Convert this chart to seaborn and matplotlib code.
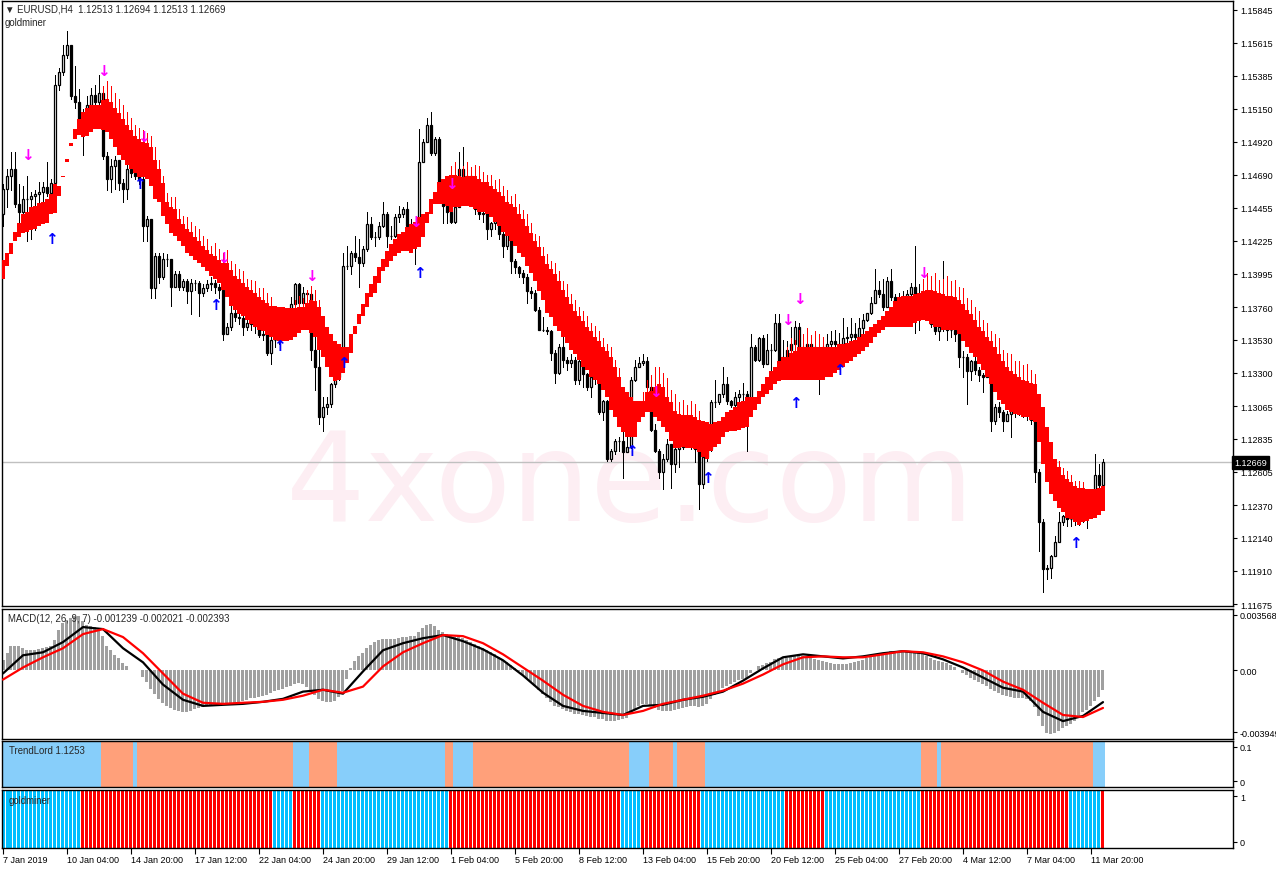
import numpy as np
import matplotlib
matplotlib.use("Agg")
import matplotlib.pyplot as plt
import seaborn as sns

# EURUSD H4, one entry per bar starting 7 Jan 2019; prices in pips (price * 10000)
first_open = 11441
close = [
    11459, 11468, 11473, 11448, 11443, 11452, 11452, 11454, 11455, 11457,
    11460, 11456, 11463, 11532, 11541, 11553, 11560, 11524, 11520, 11508,
    11501, 11518, 11525, 11520, 11526, 11482, 11466, 11475, 11479, 11463,
    11459, 11473, 11470, 11468, 11466, 11433, 11438, 11389, 11412, 11397,
    11410, 11410, 11390, 11399, 11390, 11394, 11387, 11393, 11393, 11386,
    11389, 11392, 11393, 11390, 11388, 11357, 11362, 11372, 11369, 11368,
    11362, 11365, 11364, 11363, 11356, 11357, 11344, 11353, 11353, 11355,
    11360, 11371, 11378, 11392, 11379, 11386, 11385, 11346, 11334, 11299,
    11306, 11308, 11322, 11327, 11336, 11405, 11405, 11414, 11411, 11407,
    11417, 11434, 11425, 11425, 11433, 11441, 11426, 11426, 11439, 11441,
    11445, 11433, 11434, 11431, 11478, 11492, 11504, 11484, 11494, 11464,
    11447, 11443, 11436, 11446, 11473, 11468, 11468, 11459, 11445, 11441,
    11442, 11431, 11435, 11438, 11427, 11419, 11428, 11408, 11404, 11400,
    11397, 11387, 11386, 11374, 11360, 11360, 11359, 11344, 11330, 11348,
    11339, 11337, 11339, 11325, 11338, 11329, 11320, 11327, 11327, 11302,
    11310, 11269, 11275, 11282, 11282, 11274, 11278, 11325, 11334, 11337,
    11338, 11320, 11290, 11275, 11260, 11269, 11280, 11266, 11276, 11278,
    11283, 11283, 11280, 11276, 11252, 11271, 11276, 11309, 11309, 11315,
    11322, 11310, 11307, 11313, 11315, 11315, 11311, 11348, 11339, 11354,
    11336, 11346, 11346, 11365, 11337, 11341, 11346, 11350, 11362, 11348,
    11346, 11350, 11348, 11346, 11345, 11348, 11350, 11352, 11350, 11350,
    11354, 11355, 11357, 11355, 11361, 11367, 11372, 11379, 11388, 11385,
    11376, 11394, 11383, 11380, 11381, 11381, 11385, 11390, 11385, 11385,
    11381, 11374, 11364, 11359, 11362, 11364, 11360, 11360, 11357, 11341,
    11341, 11331, 11338, 11332, 11328, 11327, 11330, 11296, 11306, 11302,
    11296, 11301, 11303, 11303, 11304, 11303, 11303, 11297, 11260, 11225,
    11192, 11193, 11201, 11211, 11225, 11229, 11227, 11227, 11227, 11227,
    11228, 11230, 11234, 11258, 11251, 11267,
]
high = [
    11462, 11473, 11485, 11485, 11462, 11461, 11468, 11457, 11458, 11464,
    11464, 11478, 11466, 11539, 11544, 11560, 11570, 11560, 11545, 11529,
    11515, 11524, 11530, 11532, 11539, 11530, 11485, 11480, 11482, 11479,
    11466, 11476, 11474, 11473, 11471, 11469, 11440, 11438, 11414, 11414,
    11414, 11413, 11410, 11401, 11401, 11396, 11396, 11396, 11395, 11394,
    11392, 11395, 11397, 11395, 11392, 11383, 11365, 11380, 11374, 11373,
    11371, 11369, 11368, 11367, 11365, 11362, 11357, 11357, 11358, 11360,
    11366, 11374, 11383, 11393, 11393, 11390, 11388, 11387, 11358, 11348,
    11313, 11313, 11323, 11329, 11339, 11414, 11419, 11415, 11426, 11424,
    11419, 11443, 11439, 11429, 11436, 11450, 11443, 11433, 11441, 11447,
    11446, 11450, 11438, 11436, 11501, 11494, 11509, 11513, 11495, 11495,
    11466, 11448, 11445, 11448, 11485, 11488, 11473, 11467, 11460, 11448,
    11446, 11444, 11436, 11441, 11439, 11431, 11431, 11429, 11410, 11405,
    11402, 11399, 11390, 11388, 11376, 11369, 11362, 11360, 11346, 11350,
    11355, 11341, 11343, 11341, 11339, 11339, 11330, 11329, 11330, 11329,
    11311, 11311, 11276, 11283, 11285, 11288, 11285, 11327, 11339, 11341,
    11343, 11341, 11322, 11294, 11276, 11273, 11283, 11280, 11280, 11283,
    11290, 11289, 11286, 11282, 11276, 11275, 11278, 11311, 11325, 11315,
    11334, 11327, 11311, 11316, 11318, 11323, 11317, 11357, 11349, 11355,
    11356, 11357, 11350, 11371, 11371, 11353, 11352, 11362, 11366, 11365,
    11353, 11355, 11353, 11351, 11350, 11353, 11357, 11359, 11360, 11358,
    11368, 11362, 11368, 11365, 11368, 11371, 11372, 11383, 11403, 11394,
    11396, 11397, 11403, 11385, 11386, 11387, 11388, 11393, 11419, 11392,
    11388, 11385, 11378, 11366, 11366, 11408, 11368, 11368, 11364, 11360,
    11345, 11343, 11339, 11341, 11334, 11330, 11334, 11330, 11308, 11309,
    11304, 11303, 11304, 11308, 11311, 11310, 11308, 11304, 11301, 11262,
    11227, 11195, 11202, 11215, 11232, 11230, 11233, 11232, 11231, 11233,
    11234, 11235, 11239, 11273, 11266, 11269,
]
low = [
    11433, 11446, 11458, 11446, 11435, 11434, 11422, 11424, 11430, 11435,
    11438, 11454, 11456, 11461, 11528, 11539, 11551, 11522, 11516, 11506,
    11483, 11501, 11515, 11516, 11518, 11480, 11458, 11457, 11459, 11458,
    11450, 11452, 11467, 11466, 11462, 11422, 11422, 11382, 11382, 11393,
    11396, 11405, 11377, 11390, 11388, 11388, 11379, 11371, 11388, 11370,
    11384, 11387, 11388, 11386, 11382, 11353, 11357, 11360, 11366, 11364,
    11356, 11360, 11360, 11358, 11355, 11353, 11342, 11336, 11348, 11350,
    11353, 11359, 11369, 11377, 11377, 11379, 11382, 11339, 11318, 11294,
    11289, 11301, 11306, 11320, 11325, 11355, 11403, 11399, 11408, 11390,
    11405, 11415, 11424, 11419, 11424, 11432, 11418, 11424, 11425, 11436,
    11439, 11431, 11424, 11406, 11424, 11478, 11492, 11483, 11483, 11452,
    11435, 11435, 11435, 11435, 11446, 11466, 11462, 11455, 11441, 11438,
    11436, 11424, 11426, 11431, 11424, 11411, 11417, 11400, 11400, 11397,
    11393, 11379, 11382, 11373, 11360, 11359, 11357, 11339, 11323, 11329,
    11334, 11332, 11334, 11322, 11322, 11320, 11318, 11313, 11322, 11301,
    11297, 11268, 11268, 11273, 11275, 11256, 11274, 11277, 11324, 11334,
    11335, 11318, 11289, 11274, 11256, 11248, 11268, 11249, 11260, 11264,
    11276, 11279, 11276, 11267, 11234, 11249, 11268, 11275, 11306, 11308,
    11313, 11308, 11306, 11306, 11310, 11311, 11275, 11311, 11338, 11338,
    11334, 11336, 11331, 11345, 11335, 11338, 11339, 11342, 11348, 11346,
    11341, 11339, 11338, 11336, 11315, 11342, 11345, 11346, 11346, 11348,
    11350, 11351, 11353, 11353, 11357, 11358, 11366, 11371, 11379, 11383,
    11374, 11376, 11381, 11378, 11378, 11377, 11378, 11383, 11358, 11360,
    11371, 11367, 11362, 11357, 11353, 11359, 11353, 11355, 11352, 11334,
    11327, 11308, 11325, 11329, 11324, 11316, 11327, 11289, 11294, 11299,
    11289, 11296, 11285, 11299, 11300, 11299, 11297, 11294, 11253, 11205,
    11176, 11185, 11186, 11201, 11211, 11223, 11222, 11222, 11223, 11223,
    11225, 11221, 11228, 11233, 11248, 11251,
]

# goldminer channel, upper and lower edge per bar (pips)
band_top = [
    11409, 11414, 11421, 11429, 11435, 11441, 11443, 11446, 11447, 11449,
    11450, 11452, 11455, 11462, 11461, 11468, 11480, 11491, 11501, 11508,
    11513, 11516, 11518, 11518, 11518, 11521, 11522, 11520, 11516, 11512,
    11508, 11504, 11500, 11496, 11494, 11492, 11491, 11488, 11479, 11473,
    11463, 11450, 11446, 11445, 11438, 11434, 11431, 11429, 11425, 11422,
    11419, 11416, 11413, 11412, 11409, 11407, 11407, 11402, 11398, 11396,
    11393, 11390, 11388, 11386, 11383, 11381, 11379, 11377, 11377, 11376,
    11376, 11375, 11375, 11375, 11376, 11376, 11379, 11381, 11380, 11376,
    11370, 11362, 11357, 11352, 11350, 11348, 11348, 11357, 11363, 11371,
    11378, 11386, 11392, 11398, 11404, 11410, 11415, 11420, 11424, 11427,
    11429, 11432, 11434, 11436, 11439, 11441, 11443, 11452, 11457, 11464,
    11466, 11468, 11469, 11469, 11468, 11467, 11468, 11468, 11468, 11466,
    11464, 11464, 11461, 11459, 11457, 11454, 11450, 11448, 11446, 11441,
    11438, 11433, 11428, 11422, 11418, 11412, 11406, 11403, 11399, 11394,
    11388, 11383, 11378, 11373, 11370, 11366, 11362, 11359, 11355, 11352,
    11348, 11345, 11341, 11334, 11327, 11320, 11316, 11313, 11310, 11310,
    11310, 11316, 11317, 11320, 11322, 11320, 11313, 11309, 11303, 11301,
    11300, 11300, 11300, 11299, 11297, 11296, 11295, 11294, 11295, 11296,
    11299, 11302, 11304, 11306, 11309, 11310, 11313, 11313, 11313, 11317,
    11322, 11327, 11331, 11334, 11338, 11341, 11341, 11344, 11345, 11348,
    11348, 11348, 11348, 11348, 11348, 11348, 11348, 11348, 11348, 11350,
    11350, 11351, 11352, 11353, 11355, 11357, 11359, 11362, 11364, 11367,
    11370, 11373, 11376, 11380, 11383, 11384, 11384, 11384, 11385, 11386,
    11387, 11388, 11388, 11387, 11386, 11385, 11384, 11384, 11383, 11381,
    11378, 11374, 11371, 11367, 11362, 11359, 11355, 11352, 11348, 11343,
    11338, 11334, 11331, 11329, 11327, 11325, 11324, 11323, 11322, 11315,
    11306, 11292, 11281, 11269, 11264, 11258, 11255, 11253, 11250, 11249,
    11249, 11248, 11248, 11248, 11249, 11250,
]
band_bot = [
    11396, 11405, 11413, 11422, 11425, 11428, 11429, 11430, 11431, 11433,
    11434, 11435, 11441, 11442, 11454, 11467, 11478, 11489, 11494, 11497,
    11495, 11496, 11499, 11501, 11501, 11500, 11499, 11494, 11488, 11483,
    11479, 11476, 11473, 11470, 11467, 11467, 11466, 11461, 11452, 11450,
    11440, 11434, 11428, 11426, 11422, 11419, 11414, 11412, 11409, 11407,
    11404, 11401, 11398, 11396, 11393, 11388, 11383, 11377, 11374, 11371,
    11370, 11367, 11364, 11362, 11360, 11359, 11356, 11355, 11353, 11352,
    11352, 11352, 11353, 11355, 11358, 11360, 11360, 11358, 11355, 11346,
    11341, 11334, 11327, 11324, 11325, 11330, 11337, 11344, 11357, 11364,
    11370, 11376, 11383, 11386, 11393, 11401, 11404, 11408, 11412, 11414,
    11415, 11415, 11414, 11417, 11418, 11425, 11435, 11441, 11448, 11448,
    11448, 11447, 11443, 11446, 11446, 11447, 11447, 11446, 11445, 11443,
    11443, 11441, 11439, 11436, 11433, 11429, 11426, 11422, 11419, 11414,
    11411, 11405, 11400, 11394, 11387, 11381, 11372, 11369, 11363, 11359,
    11355, 11351, 11346, 11343, 11339, 11334, 11332, 11327, 11325, 11322,
    11318, 11313, 11304, 11299, 11292, 11288, 11285, 11285, 11285, 11295,
    11299, 11302, 11302, 11299, 11296, 11292, 11288, 11282, 11277, 11277,
    11278, 11277, 11277, 11276, 11274, 11271, 11269, 11275, 11278, 11280,
    11285, 11288, 11289, 11289, 11290, 11291, 11292, 11299, 11304, 11308,
    11313, 11315, 11318, 11322, 11324, 11325, 11325, 11325, 11325, 11325,
    11325, 11325, 11325, 11325, 11325, 11325, 11327, 11327, 11330, 11332,
    11334, 11337, 11338, 11341, 11343, 11345, 11348, 11351, 11355, 11358,
    11360, 11362, 11362, 11362, 11362, 11362, 11362, 11362, 11365, 11366,
    11367, 11366, 11364, 11362, 11362, 11360, 11360, 11360, 11360, 11357,
    11352, 11348, 11344, 11341, 11336, 11332, 11327, 11322, 11316, 11311,
    11308, 11304, 11302, 11301, 11300, 11299, 11299, 11297, 11295, 11281,
    11266, 11253, 11245, 11240, 11235, 11232, 11228, 11227, 11225, 11223,
    11225, 11226, 11227, 11228, 11230, 11233,
]
# thin red ticks above the channel (pips above band_top, 0 = none)
spike = [
    0, 0, 0, 0, 0, 0, 0, 0, 0, 0,
    0, 0, 0, 0, 0, 0, 0, 0, 0, 0,
    0, 0, 0, 0, 0, 10, 13, 11, 10, 10,
    10, 9, 9, 8, 8, 8, 7, 8, 9, 6,
    5, 6, 7, 8, 7, 6, 8, 7, 8, 9,
    7, 8, 6, 9, 8, 7, 9, 6, 8, 7,
    8, 6, 7, 8, 6, 8, 7, 6, 0, 0,
    0, 0, 0, 6, 8, 6, 9, 10, 8, 5,
    0, 0, 0, 0, 0, 0, 0, 0, 0, 0,
    0, 0, 0, 0, 0, 0, 0, 0, 0, 0,
    0, 0, 0, 0, 0, 0, 0, 0, 0, 0,
    0, 0, 6, 9, 5, 8, 10, 6, 8, 9,
    7, 5, 8, 6, 9, 7, 8, 6, 9, 7,
    6, 8, 7, 5, 8, 6, 7, 5, 8, 7,
    6, 9, 7, 8, 6, 7, 8, 6, 8, 7,
    6, 5, 7, 5, 6, 0, 0, 0, 0, 0,
    6, 9, 11, 14, 12, 10, 13, 9, 12, 8,
    11, 7, 10, 9, 6, 0, 0, 0, 0, 0,
    0, 0, 0, 0, 0, 0, 0, 0, 0, 0,
    0, 0, 0, 0, 0, 0, 7, 10, 8, 12,
    9, 13, 8, 11, 9, 7, 0, 0, 0, 0,
    0, 0, 0, 0, 0, 0, 0, 0, 0, 0,
    0, 0, 0, 0, 0, 0, 0, 0, 0, 0,
    9, 12, 10, 13, 9, 11, 14, 10, 12, 9,
    11, 8, 10, 9, 11, 8, 10, 7, 9, 11,
    8, 10, 12, 9, 11, 10, 12, 9, 7, 0,
    0, 0, 0, 0, 4, 5, 6, 5, 4, 5,
    4, 0, 0, 0, 0, 0,
]

# MACD histogram per bar, in units of 1e-4
macd_hist = [
    6.5, 11.0, 15.5, 15.5, 15.5, 14.2, 12.9, 12.9, 12.9, 13.5,
    14.2, 14.8, 15.5, 19.4, 25.8, 30.3, 32.3, 33.5, 34.8, 34.8,
    31.6, 29.0, 28.4, 27.7, 25.8, 21.9, 15.5, 12.9, 9.7, 7.7,
    4.5, 2.6, 0.6, 0.0, 0.0, -3.9, -7.1, -11.6, -14.8, -18.1,
    -20.6, -22.6, -23.9, -25.2, -25.8, -26.4, -26.4, -25.8, -24.5, -23.9,
    -23.2, -22.6, -22.6, -21.3, -21.3, -21.9, -21.9, -21.3, -20.6, -20.0,
    -19.4, -18.7, -17.4, -17.4, -16.8, -16.1, -15.5, -14.2, -12.9, -12.3,
    -11.6, -10.3, -9.7, -8.4, -7.7, -8.4, -10.3, -12.9, -15.5, -18.1,
    -19.4, -20.0, -20.0, -19.4, -16.8, -12.9, -5.2, 1.3, 5.8, 9.0,
    11.0, 14.2, 16.1, 18.1, 19.4, 20.0, 20.0, 20.0, 20.0, 20.6,
    21.3, 21.3, 21.9, 21.9, 24.5, 27.1, 29.0, 29.7, 28.4, 25.8,
    24.5, 23.2, 22.6, 21.3, 21.3, 20.6, 19.4, 18.1, 16.8, 15.5,
    14.2, 12.9, 11.6, 10.3, 8.4, 6.5, 5.2, 3.2, 1.3, -0.6,
    -2.6, -5.2, -7.1, -9.7, -12.3, -14.8, -17.4, -20.0, -22.6, -23.2,
    -24.5, -25.8, -26.4, -27.7, -27.7, -28.4, -29.0, -29.7, -29.7, -31.0,
    -31.0, -32.3, -32.3, -32.3, -31.6, -31.0, -30.3, -27.1, -24.5, -22.6,
    -21.3, -21.3, -22.6, -23.9, -25.2, -25.8, -25.8, -25.8, -25.2, -24.5,
    -23.9, -23.2, -22.6, -22.6, -23.2, -22.6, -21.3, -18.1, -15.5, -13.5,
    -11.0, -9.7, -8.4, -7.1, -5.8, -5.2, -4.5, -1.3, 0.6, 2.6,
    3.2, 4.5, 5.2, 7.1, 7.7, 7.7, 7.7, 8.4, 9.0, 9.0,
    9.0, 8.4, 7.7, 7.1, 6.5, 5.8, 5.2, 4.5, 3.9, 3.9,
    3.9, 3.9, 4.5, 5.2, 5.8, 6.5, 7.7, 9.0, 10.3, 11.0,
    11.0, 11.6, 12.3, 11.6, 11.6, 11.6, 11.6, 11.6, 11.6, 11.0,
    10.3, 9.0, 7.7, 6.5, 5.8, 5.2, 4.5, 3.2, 1.9, 0.0,
    -1.3, -3.2, -4.5, -5.8, -7.1, -8.4, -9.7, -11.6, -12.9, -14.2,
    -15.5, -16.1, -16.8, -17.4, -17.4, -17.4, -18.1, -19.4, -23.2, -29.0,
    -35.5, -40.0, -40.6, -40.0, -38.7, -36.8, -35.5, -34.2, -32.3, -29.0,
    -26.4, -25.2, -22.6, -19.4, -16.8, -12.4,
]
# MACD lines, read every 5th bar, units of 1e-4
line_step = 5
macd_main = [
    -1.9, 9.7, 11.6, 18.1, 27.7, 26.4, 14.2, 5.2, -9.0, -18.7,
    -22.6, -21.9, -21.3, -20.0, -18.1, -13.5, -12.3, -14.8, -0.6, 12.9,
    17.4, 20.6, 22.6, 18.7, 13.5, 6.5, -3.2, -14.2, -22.6, -25.8,
    -27.1, -28.4, -22.6, -21.9, -18.7, -16.8, -13.5, -6.5, 1.3, 8.4,
    10.3, 9.0, 7.7, 9.0, 11.0, 12.3, 11.0, 7.1, 1.9, -4.5,
    -11.0, -13.5, -26.4, -32.3, -29.0, -20.2,
]
macd_signal = [
    -5.8, 1.9, 8.4, 14.2, 23.2, 26.4, 21.3, 11.0, -1.9, -14.8,
    -20.6, -21.3, -20.6, -20.0, -18.7, -16.1, -12.3, -14.2, -10.3, 2.6,
    11.6, 17.4, 22.6, 21.9, 17.4, 10.3, 1.9, -6.5, -15.5, -22.6,
    -26.4, -28.4, -25.8, -21.3, -18.7, -16.1, -12.9, -8.4, -2.6, 3.9,
    8.4, 9.0, 8.4, 8.4, 10.3, 12.3, 11.6, 9.0, 5.2, 0.0,
    -7.1, -12.3, -20.6, -28.4, -29.7, -23.9,
]

# state runs: first bar of each run, states alternate starting with "up"
trend_starts = [0, 25, 33, 34, 73, 77, 84, 111, 113, 118, 157, 162, 168, 169, 176, 230, 234, 235, 273]
gold_starts = [0, 20, 68, 73, 80, 112, 155, 160, 175, 196, 206, 230, 267, 275]

arrow_dn_bar = [6, 25, 35, 55, 77, 103, 112, 163, 196, 199, 230]
arrow_dn_price = [1.1483, 1.1542, 1.1496, 1.1411, 1.1398, 1.1436, 1.1463, 1.1317, 1.1367, 1.1382, 1.1400]
arrow_up_bar = [12, 34, 53, 69, 85, 104, 157, 176, 198, 209, 268]
arrow_up_price = [1.1424, 1.1463, 1.1378, 1.1349, 1.1337, 1.1400, 1.1275, 1.1256, 1.1309, 1.1332, 1.1211]

price_ticks = [1.15845, 1.15615, 1.15385, 1.15150, 1.14920, 1.14690, 1.14455, 1.14225, 1.13995,
               1.13760, 1.13530, 1.13300, 1.13065, 1.12835, 1.12605, 1.12370, 1.12140, 1.11910, 1.11675]
time_labels = ["7 Jan 2019", "10 Jan 04:00", "14 Jan 20:00", "17 Jan 12:00", "22 Jan 04:00",
               "24 Jan 20:00", "29 Jan 12:00", "1 Feb 04:00", "5 Feb 20:00", "8 Feb 12:00",
               "13 Feb 04:00", "15 Feb 20:00", "20 Feb 12:00", "25 Feb 04:00", "27 Feb 20:00",
               "4 Mar 12:00", "7 Mar 04:00", "11 Mar 20:00"]
label_every = 16
last_price = 1.12669

for arr in (close, high, low, band_top, band_bot, spike, macd_hist):
    assert len(arr) == len(close), len(arr)

sns.set_theme(style="white")
plt.rcParams["font.family"] = ["Liberation Sans", "DejaVu Sans"]

n = len(close)
x = np.arange(n)
c = np.array(close) / 1e4
o = np.r_[first_open, close[:-1]] / 1e4
h = np.maximum(np.array(high) / 1e4, np.maximum(o, c))
l = np.minimum(np.array(low) / 1e4, np.minimum(o, c))

W, H = 1276, 870
fig = plt.figure(figsize=(W / 100, H / 100), dpi=100)
TICK_FS = 6.5
LABEL_FS = 6.9
PX = 0.72  # one pixel in points at 100 dpi


def panel(top, bottom, left=2, right=1233):
    a = fig.add_axes([left / W, 1 - bottom / H, (right - left) / W, (bottom - top) / H])
    a.set_facecolor("white")
    for s in a.spines.values():
        s.set_color("black")
        s.set_linewidth(1)
    a.set_xlim(-0.25, 307.5)
    a.yaxis.tick_right()
    a.tick_params(axis="y", direction="out", length=3, width=0.8, labelsize=TICK_FS, pad=2, colors="black")
    a.tick_params(axis="x", bottom=False, labelbottom=False)
    return a


ax = panel(2, 607)
ax_m = panel(610, 740)
ax_t = panel(742, 788)
ax_g = panel(791, 849)

# ---- main chart ----
ax.text(0.51, 0.142, "4xone.com", transform=ax.transAxes, fontsize=90, color="#FDEEF3",
        ha="center", va="baseline", zorder=0, family="DejaVu Sans")
ax.axhline(last_price, color="#C0C0C0", lw=1, zorder=1)

ax.vlines(x, l, h, color="black", lw=PX, zorder=2, antialiased=False)
up = c >= o
body_lo = np.minimum(o, c)
body_h = np.abs(c - o)
ax.bar(x[up], body_h[up], bottom=body_lo[up], width=0.55, color="white",
       edgecolor="black", linewidth=0.9, zorder=3)
ax.bar(x[~up], body_h[~up], bottom=body_lo[~up], width=0.55, color="black",
       edgecolor="black", linewidth=0.9, zorder=3)

bt = np.array(band_top) / 1e4
bb = np.array(band_bot) / 1e4
sp = np.array(spike) / 1e4
has = sp > 0
ax.vlines(x[has], bt[has], bt[has] + sp[has], color="#FF0000", lw=PX, zorder=4, antialiased=False)
ax.bar(x, bt - bb, bottom=bb, width=1.02, color="#FF0000", linewidth=0, zorder=4)

for b, p in zip(arrow_dn_bar, arrow_dn_price):
    ax.text(b, p, "\u2193", color="#FF00FF", fontsize=11, fontweight="bold",
            ha="center", va="center", zorder=6, family="DejaVu Sans")
for b, p in zip(arrow_up_bar, arrow_up_price):
    ax.text(b, p, "\u2191", color="#0000FF", fontsize=11, fontweight="bold",
            ha="center", va="center", zorder=6, family="DejaVu Sans")

ax.set_ylim(1.116611, 1.159081)
ax.set_yticks(price_ticks)
ax.set_yticklabels([f"{p:.5f}" for p in price_ticks])
ax.text(1.0008, last_price, f"{last_price:.5f}", transform=ax.get_yaxis_transform(),
        ha="left", va="center", fontsize=TICK_FS, color="white", zorder=10, clip_on=False,
        bbox=dict(facecolor="black", edgecolor="black", pad=1.4))

fig.text(5 / W, 1 - 10 / H, "\u25bc EURUSD,H4  1.12513 1.12694 1.12513 1.12669",
         fontsize=LABEL_FS, va="center", ha="left")
fig.text(5 / W, 1 - 23 / H, "goldminer", fontsize=LABEL_FS, va="center", ha="left")

# ---- MACD ----
hist = np.array(macd_hist) * 1e-4
ax_m.bar(x, hist, width=0.75, color="#A0A0A0", linewidth=0, zorder=2, antialiased=False)
lx = x[::line_step]
sns.lineplot(x=lx, y=np.array(macd_main) * 1e-4, ax=ax_m, color="black", lw=1.6, zorder=3)
sns.lineplot(x=lx, y=np.array(macd_signal) * 1e-4, ax=ax_m, color="red", lw=1.6, zorder=4)
ax_m.set_xlabel("")
ax_m.set_ylabel("")
ax_m.set_xlim(-0.25, 307.5)
ax_m.set_ylim(-0.004372, 0.003922)
ax_m.set_yticks([0.003568, 0.0, -0.003949])
ax_m.set_yticklabels(["0.003568", "0.00", "-0.003949"])
ax_m.text(6 / 1231, 1 - 9 / 130, "MACD(12, 26, 9, 7) -0.001239 -0.002021 -0.002393",
          transform=ax_m.transAxes, fontsize=LABEL_FS, va="center", ha="left")

# ---- TrendLord ----
t_colors = ["#87CEFA", "#FFA07A"]
t_ends = trend_starts[1:] + [n]
for k, (s, e) in enumerate(zip(trend_starts, t_ends)):
    ax_t.axvspan(s - 0.5, e - 0.5, color=t_colors[k % 2], lw=0)
ax_t.set_ylim(-0.0176, 0.1176)
ax_t.set_yticks([0.1, 0])
ax_t.set_yticklabels(["0.1", "0"])
ax_t.text(7 / 1231, 1 - 9 / 46, "TrendLord 1.1253", transform=ax_t.transAxes,
          fontsize=LABEL_FS, va="center", ha="left")

# ---- goldminer state ----
g_colors = ["#00BFFF", "#FF0000"]
g_state = np.zeros(n, dtype=int)
g_ends = gold_starts[1:] + [n]
for k, (s, e) in enumerate(zip(gold_starts, g_ends)):
    g_state[s:e] = k % 2
ax_g.bar(x, 1.6, bottom=-0.3, width=0.75, color=[g_colors[s] for s in g_state],
         linewidth=0, antialiased=False)
ax_g.set_ylim(-0.136, 1.136)
ax_g.set_yticks([1, 0])
ax_g.set_yticklabels(["1", "0"])
ax_g.text(7 / 1231, 1 - 10 / 58, "goldminer", transform=ax_g.transAxes,
          fontsize=LABEL_FS, va="center", ha="left")

ax_g.set_xticks(x[::label_every])
ax_g.set_xticklabels(time_labels)
ax_g.tick_params(axis="x", bottom=True, labelbottom=True, direction="out", length=4,
                 width=0.8, labelsize=TICK_FS, pad=1, colors="black")
for t in ax_g.get_xticklabels():
    t.set_ha("left")

fig.savefig("out.png", dpi=100)
